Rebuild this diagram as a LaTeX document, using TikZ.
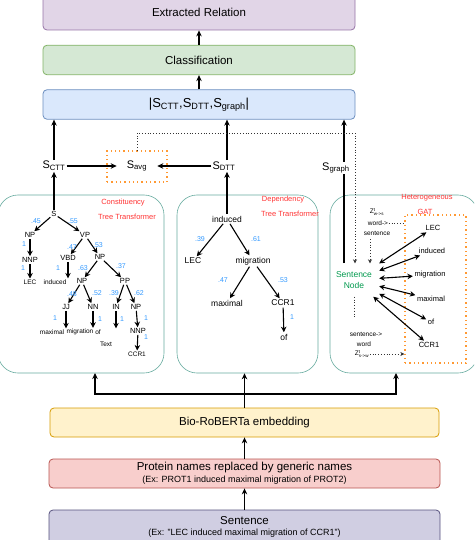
\documentclass[tikz,border=0pt]{standalone}
\usepackage{fontspec}
\setmainfont{Liberation Sans}
\usetikzlibrary{arrows.meta,calc}
\definecolor{wblue}{HTML}{3399FF}
\definecolor{redc}{HTML}{FF3333}
\definecolor{greenc}{HTML}{00994D}
\definecolor{panelc}{HTML}{67AB9F}
\definecolor{orangec}{HTML}{FF9933}
\definecolor{erfill}{HTML}{E1D5E7}\definecolor{erdraw}{HTML}{9673A6}
\definecolor{clfill}{HTML}{D5E8D4}\definecolor{cldraw}{HTML}{82B366}
\definecolor{blfill}{HTML}{DAE8FC}\definecolor{bldraw}{HTML}{6C8EBF}
\definecolor{yefill}{HTML}{FFF2CC}\definecolor{yedraw}{HTML}{D79B00}
\definecolor{rdfill}{HTML}{F8CECC}\definecolor{rddraw}{HTML}{B85450}
\definecolor{pufill}{HTML}{D0CEE2}\definecolor{pudraw}{HTML}{56517E}
\newcommand{\smallsc}[1]{\mbox{\fontsize{4.5}{5}\selectfont #1}}
\tikzset{
 bx/.style={draw, rounded corners=4pt, line width=0.8pt, minimum width=312pt, minimum height=29.5pt, inner sep=0pt, font=\fontsize{11.5}{13.5}\selectfont, align=center},
 arr/.style={line width=1.1pt, -{Stealth[length=6pt,width=5.5pt]}},
 darr/.style={line width=1.1pt, {Stealth[length=5.5pt,width=5.5pt]}-{Stealth[length=5.5pt,width=5.5pt]}},
 tarr/.style={line width=1.1pt, -{Stealth[length=5.5pt,width=5.5pt]}},
 panel/.style={draw=panelc, line width=0.6pt, rounded corners=20pt},
 tl/.style={font=\fontsize{7.5}{8}\selectfont, inner sep=1pt},
 tw/.style={font=\fontsize{6.5}{7}\selectfont, inner sep=1pt},
 wt/.style={font=\fontsize{7}{8}\selectfont, text=wblue, inner sep=0pt},
 dl/.style={font=\fontsize{8.5}{10}\selectfont, inner sep=1.5pt},
 gw/.style={font=\fontsize{7.5}{9}\selectfont, inner sep=1.5pt},
 redl/.style={font=\fontsize{7.5}{9}\selectfont, text=redc, inner sep=0pt},
 zl/.style={font=\fontsize{6.5}{7.5}\selectfont, inner sep=0.5pt},
 dotl/.style={line width=0.8pt, dash pattern=on 0.8pt off 2pt, black!80},
 odot/.style={draw=orangec, line width=1.3pt, dash pattern=on 1.3pt off 3pt},
 sl/.style={font=\fontsize{11}{12}\selectfont, inner sep=1pt},
}
\begin{document}
\begin{tikzpicture}[x=1pt,y=-1pt]
\useasboundingbox (0,0) rectangle (474,540);
\clip (0,0) rectangle (474,540);

% top boxes
\node[bx, fill=erfill, draw=erdraw, minimum height=35pt] (er) at (199,12.5) {Extracted Relation};
\node[bx, fill=clfill, draw=cldraw] (cls) at (199,60) {Classification};
\node[bx, fill=blfill, draw=bldraw, font=\fontsize{13}{15}\selectfont] (blue) at (199,104.5) {|S\textsubscript{CTT},S\textsubscript{DTT},S\textsubscript{graph}|};
\draw[arr] (blue) -- (cls);
\draw[arr] (cls) -- (er);

% bottom boxes
\node[bx, fill=yefill, draw=yedraw, minimum width=389pt, minimum height=29pt] (bio) at (244.5,422.5) {Bio-RoBERTa embedding};
\node[bx, fill=rdfill, draw=rddraw, minimum width=391pt, minimum height=29pt] (prot) at (244.5,473.5) {Protein names replaced by generic names\\[-2pt]{\fontsize{9}{10}\selectfont (Ex: PROT1 induced maximal migration of PROT2)}};
\node[bx, fill=pufill, draw=pudraw, minimum width=391pt, minimum height=34pt] (sent) at (244.5,527) {Sentence\\[-2pt]{\fontsize{9}{10}\selectfont (Ex: "LEC induced maximal migration of CCR1")}};
\draw[arr] (sent) -- (prot);
\draw[arr] (prot) -- (bio);

% panels
\node[panel, minimum width=166pt, minimum height=178pt] (pl) at (81,284) {};
\node[panel, minimum width=141pt, minimum height=178pt] (pm) at (247.5,284) {};
\node[panel, minimum width=148pt, minimum height=178pt] (pr) at (404,284) {};

\coordinate (jn) at (245,394);
\coordinate (jl) at (95,373);
\coordinate (jr) at (396,373);
\draw[arr] (bio.north) -- (bio.north |- pm.south);
\draw[arr] (jn) -| (jl);
\draw[arr] (jn) -| (jr);

% red labels
\node[redl] at (123,203) {Constituency};
\node[redl] at (127,217) {Tree Transformer};
\node[redl] at (283,200) {Dependency};
\node[redl] at (290,214) {Tree Transformer};
\node[redl] at (427,198) {Heterogeneous};

% S labels
\node[sl] (sctt) at (54,166) {S\textsubscript{CTT}};
\node[sl, inner xsep=10pt] (savg) at (137,166) {S\textsubscript{avg}};
\node[odot, minimum width=60pt, minimum height=31pt] (savgbox) at (137,166.5) {};
\node[sl] (sdtt) at (224,166) {S\textsubscript{DTT}};
\node[sl, fill=white, inner sep=0.5pt] (sgr) at (336,168) {S\textsubscript{graph}};
\draw[arr] (sctt) -- (savg);
\draw[arr] (sdtt) -- (savg);

% constituency tree
\node[tl] (cS) at (54,214) {S};
\node[tl] (cNP1) at (30,235) {NP};
\node[tl] (cVP) at (85,235) {VP};
\node[tl] (cNNP1) at (30,260) {NNP};
\node[tw] (cLEC) at (30,282) {LEC};
\node[tl] (cVBD) at (68,258) {VBD};
\node[tl] (cNP2) at (100,257) {NP};
\node[tw] (cInd) at (55,282) {induced};
\node[tl] (cNP3) at (82,281) {NP};
\node[tl] (cPP) at (125,281) {PP};
\node[tl] (cJJ) at (66,307) {JJ};
\node[tl] (cNN) at (93,307) {NN};
\node[tl] (cIN) at (116,307) {IN};
\node[tl] (cNP4) at (136,307) {NP};
\node[tw] (cmax) at (52,332) {maximal};
\node[tw] (cmig) at (80,332) {migration};
\node[tw] (cof) at (98,332) {of};
\node[tl] (cNNP2) at (138,331) {NNP};
\node[tw] (ctext) at (106,344) {Text};
\node[tw] (cCCR) at (137,354) {CCR1};

\draw[arr] (cS.north) -- (cS.north |- sctt.south);
\draw[arr] (cS.north |- sctt.north) -- (cS.north |- blue.south);

\draw[tarr] (cS) -- (cNP1);
\draw[tarr] (cS) -- (cVP);
\draw[tarr] (cNP1) -- (cNNP1);
\draw[tarr] (cNNP1) -- (cLEC);
\draw[tarr] (cVP) -- (cVBD);
\draw[tarr] (cVP) -- (cNP2);
\draw[tarr] (cVBD.south) -- (cVBD.south |- cInd.north);
\draw[tarr] (cNP2) -- (cNP3);
\draw[tarr] (cNP2) -- (cPP);
\draw[tarr] (cNP3) -- (cJJ);
\draw[tarr] (cNP3) -- (cNN);
\draw[tarr] (cPP) -- (cIN);
\draw[tarr] (cPP) -- (cNP4);
\draw[tarr] (cJJ.south) -- (cJJ.south |- cmax.north);
\draw[tarr] (cNN.south) -- (cNN.south |- cmig.north);
\draw[tarr] (cIN.south) -- (cIN.south |- cof.north);
\draw[tarr] (cNP4) -- (cNNP2);
\draw[tarr] (cNNP2) -- (cCCR);

\node[wt] at (36,221) {.45};
\node[wt] at (73,221) {.55};
\node[wt] at (24,244) {1};
\node[wt] at (23,268) {1};
\node[wt] at (72,247) {.47};
\node[wt] at (98,245) {.53};
\node[wt] at (58,268) {1};
\node[wt] at (83,268) {.63};
\node[wt] at (121,266) {.37};
\node[wt] at (72,294) {.48};
\node[wt] at (97,293) {.52};
\node[wt] at (114,293) {.39};
\node[wt] at (139,293) {.62};
\node[wt] at (55,318) {1};
\node[wt] at (100,319) {1};
\node[wt] at (122,319) {1};
\node[wt] at (146,318) {1};
\node[wt] at (146,337) {1};

% dependency tree
\node[dl] (dInd) at (227,219) {induced};
\node[dl] (dLEC) at (193,261) {LEC};
\node[dl] (dMig) at (253,261) {migration};
\node[dl] (dMax) at (227,303) {maximal};
\node[dl] (dCCR) at (283,303) {CCR1};
\node[dl] (dOf) at (284,337) {of};
\draw[arr] (dInd.north) -- (dInd.north |- sdtt.south);
\draw[arr] (dInd.north |- sdtt.north) -- (dInd.north |- blue.south);
\draw[tarr] (dInd) -- (dLEC);
\draw[tarr] (dInd) -- (dMig);
\draw[tarr] (dMig) -- (dMax);
\draw[tarr] (dMig) -- (dCCR);
\draw[tarr] (dCCR) -- (dOf);
\node[wt] at (200,239) {.39};
\node[wt] at (256,239) {.61};
\node[wt] at (223,280) {.47};
\node[wt] at (283,280) {.53};
\node[wt] at (292,317) {1};

% GAT
\node[odot, minimum width=61pt, minimum height=148pt] (gat) at (435.5,289) {};
\node[redl] at (425,212) {GAT};
\node[gw] (g1) at (433,228) {LEC};
\node[gw] (g2) at (432,251) {induced};
\node[gw] (g3) at (430,275) {migration};
\node[gw] (g4) at (431,299) {maximal};
\node[gw] (g5) at (431,322) {of};
\node[gw] (g6) at (429,345) {CCR1};
\node[font=\fontsize{8.5}{11}\selectfont, text=greenc, align=center, minimum width=50pt, minimum height=33pt, inner sep=0pt] (sn) at (354,280) {Sentence\\Node};
\draw[darr] (sn) -- (g1);
\draw[darr] (sn) -- (g2);
\draw[darr] (sn) -- (g3);
\draw[darr] (sn) -- (g4);
\draw[darr] (sn) -- (g5);
\draw[darr] (sn) -- (g6);

% S_graph line
\coordinate (sgl) at (344,263);
\draw[line width=1.1pt] (sgl) -- (sgl |- sgr.south);
\draw[arr] (sgl |- sgr.north) -- (sgl |- blue.south);

% dotted connectors
\coordinate (dtop) at (355,133);
\draw[dotl, -{Stealth[length=4pt,width=4pt]}] (savgbox.north) |- (dtop) -- (dtop |- sn.north);
\node[zl] (zws) at (377,212) {Z$^{\smallsc{t}}_{\smallsc{w->s}}$};
\node[zl] (w2s1) at (378,223) {word->};
\node[zl] (w2s2) at (377,233) {sentence};
\coordinate (w2sa) at (370,239);
\draw[dotl] (w2s1.east) -- (w2s1.east -| gat.west);
\draw[dotl, -{Stealth[length=4pt,width=4pt]}] (w2sa) -- (w2sa |- sn.north);
\coordinate (snb) at (354,318);
\draw[dotl] (sn.south) -- (snb);
\node[zl] (s2w1) at (366,334) {sentence->};
\node[zl] (s2w2) at (364,344) {word};
\node[zl] (zsw) at (362,354) {Z$^{\smallsc{t}}_{\smallsc{s->w}}$};
\draw[dotl, -{Stealth[length=4pt,width=4pt]}] (zsw.east) -- (zsw.east -| gat.west);
\end{tikzpicture}
\end{document}
